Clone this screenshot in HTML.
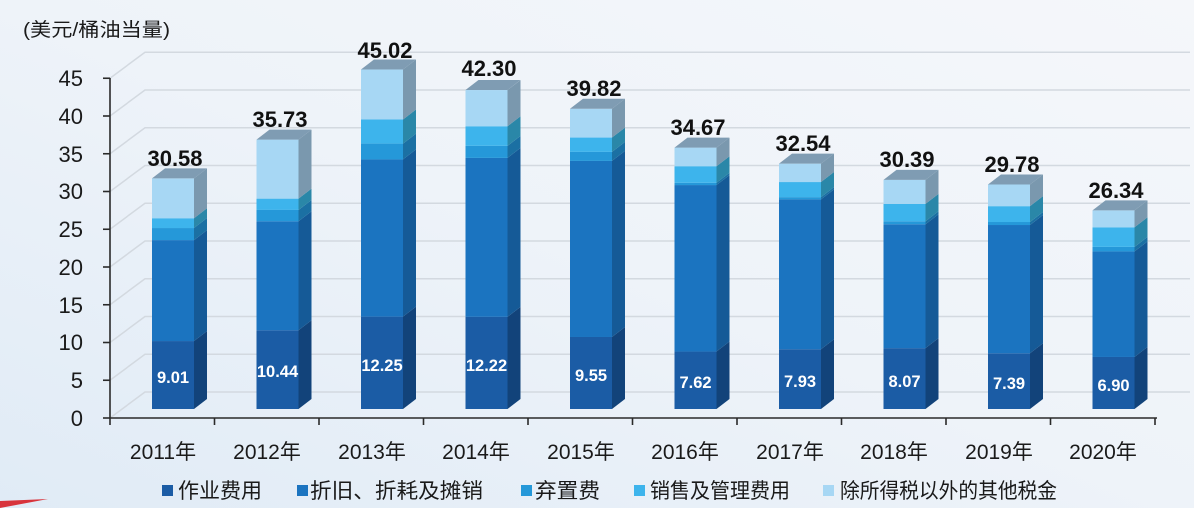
<!DOCTYPE html>
<html><head><meta charset="utf-8"><style>
html,body{margin:0;padding:0;width:1194px;height:508px;overflow:hidden;}
svg{display:block;}
text{font-family:"Liberation Sans","Noto Sans CJK SC",sans-serif;}
</style></head><body>
<svg width="1194" height="508" viewBox="0 0 1194 508" xmlns="http://www.w3.org/2000/svg">
<defs>
<linearGradient id="bg" x1="0" y1="1" x2="1" y2="0">
<stop offset="0" stop-color="#e0ebf6"/>
<stop offset="0.5" stop-color="#eef3f9"/>
<stop offset="1" stop-color="#f5f7fa"/>
</linearGradient>
</defs>
<rect width="1194" height="508" fill="url(#bg)"/>
<polygon points="0,501 48,499 0,508" fill="#d8343c"/>

<!-- title -->
<text x="23" y="36" font-size="19" fill="#1a1a1a" textLength="147" lengthAdjust="spacingAndGlyphs">(美元/桶油当量)</text>

<!-- gridlines -->
<g stroke="#d3d9e0" stroke-width="1.5" fill="none">
<polyline points="110,418 145,392 1190,392"/>
<polyline points="110,380.25 145,354.25 1190,354.25"/>
<polyline points="110,342.5 145,316.5 1190,316.5"/>
<polyline points="110,304.75 145,278.75 1190,278.75"/>
<polyline points="110,267 145,241 1190,241"/>
<polyline points="110,229.25 145,203.25 1190,203.25"/>
<polyline points="110,191.5 145,165.5 1190,165.5"/>
<polyline points="110,153.75 145,127.75 1190,127.75"/>
<polyline points="110,116 145,90 1190,90"/>
<polyline points="110,78.25 145,52.25 1190,52.25"/>
</g>

<!-- axes -->
<g stroke="#2a2a2a" stroke-width="1.6">
<line x1="110" y1="78" x2="110" y2="425"/>
<line x1="110" y1="418" x2="1157" y2="418"/>
<line x1="103" y1="418" x2="110" y2="418"/>
<line x1="103" y1="380.25" x2="110" y2="380.25"/>
<line x1="103" y1="342.5" x2="110" y2="342.5"/>
<line x1="103" y1="304.75" x2="110" y2="304.75"/>
<line x1="103" y1="267" x2="110" y2="267"/>
<line x1="103" y1="229.25" x2="110" y2="229.25"/>
<line x1="103" y1="191.5" x2="110" y2="191.5"/>
<line x1="103" y1="153.75" x2="110" y2="153.75"/>
<line x1="103" y1="116" x2="110" y2="116"/>
<line x1="103" y1="78.25" x2="110" y2="78.25"/>
<line x1="214.5" y1="418" x2="214.5" y2="425"/>
<line x1="319" y1="418" x2="319" y2="425"/>
<line x1="423.5" y1="418" x2="423.5" y2="425"/>
<line x1="528" y1="418" x2="528" y2="425"/>
<line x1="632.5" y1="418" x2="632.5" y2="425"/>
<line x1="737" y1="418" x2="737" y2="425"/>
<line x1="841.5" y1="418" x2="841.5" y2="425"/>
<line x1="946" y1="418" x2="946" y2="425"/>
<line x1="1050.5" y1="418" x2="1050.5" y2="425"/>
<line x1="1155" y1="418" x2="1155" y2="425"/>
</g>

<!-- y labels -->
<g font-size="22" fill="#1a1a1a" text-anchor="end">
<text x="83" y="426">0</text>
<text x="83" y="388">5</text>
<text x="83" y="350">10</text>
<text x="83" y="313">15</text>
<text x="83" y="275">20</text>
<text x="83" y="237">25</text>
<text x="83" y="199">30</text>
<text x="83" y="162">35</text>
<text x="83" y="124">40</text>
<text x="83" y="86">45</text>
</g>

<!-- x labels -->
<g font-size="21" fill="#1a1a1a" text-anchor="middle">
<text x="163" y="459">2011年</text>
<text x="267" y="459">2012年</text>
<text x="372" y="459">2013年</text>
<text x="476" y="459">2014年</text>
<text x="581" y="459">2015年</text>
<text x="685" y="459">2016年</text>
<text x="790" y="459">2017年</text>
<text x="894" y="459">2018年</text>
<text x="999" y="459">2019年</text>
<text x="1103" y="459">2020年</text>
</g>

<!-- bars -->
<!-- macro: front rects, side skewed rects, top polygon -->
<g id="b0" transform="translate(152,0)">
<rect x="0" y="341.06" width="42" height="67.94" fill="#1b5ca5"/>
<rect x="0" y="240.1" width="42" height="100.96" fill="#1b74c0"/>
<rect x="0" y="228.04" width="42" height="12.06" fill="#2598d9"/>
<rect x="0" y="218.24" width="42" height="9.8" fill="#3db4ec"/>
<rect x="0" y="178.43" width="42" height="39.81" fill="#a7d7f4"/>
<g transform="translate(42,0) matrix(1,-0.769,0,1,0,0)">
<rect x="0" y="341.06" width="13" height="67.94" fill="#12437a"/>
<rect x="0" y="240.1" width="13" height="100.96" fill="#155a97"/>
<rect x="0" y="228.04" width="13" height="12.06" fill="#1b70a3"/>
<rect x="0" y="218.24" width="13" height="9.8" fill="#2a87a8"/>
<rect x="0" y="178.43" width="13" height="39.81" fill="#7a98ae"/>
</g>
<polygon points="0,178.43 42,178.43 55,168.43 13,168.43" fill="#7f9cb3"/>
</g>

<g transform="translate(256.5,0)">
<rect x="0" y="330.28" width="42" height="78.72" fill="#1b5ca5"/>
<rect x="0" y="221.25" width="42" height="109.03" fill="#1b74c0"/>
<rect x="0" y="209.94" width="42" height="11.31" fill="#2598d9"/>
<rect x="0" y="198.63" width="42" height="11.31" fill="#3db4ec"/>
<rect x="0" y="139.6" width="42" height="59.03" fill="#a7d7f4"/>
<g transform="translate(42,0) matrix(1,-0.769,0,1,0,0)">
<rect x="0" y="330.28" width="13" height="78.72" fill="#12437a"/>
<rect x="0" y="221.25" width="13" height="109.03" fill="#155a97"/>
<rect x="0" y="209.94" width="13" height="11.31" fill="#1b70a3"/>
<rect x="0" y="198.63" width="13" height="11.31" fill="#2a87a8"/>
<rect x="0" y="139.6" width="13" height="59.03" fill="#7a98ae"/>
</g>
<polygon points="0,139.6 42,139.6 55,129.6 13,129.6" fill="#7f9cb3"/>
</g>

<g transform="translate(361,0)">
<rect x="0" y="316.63" width="42" height="92.37" fill="#1b5ca5"/>
<rect x="0" y="159.43" width="42" height="157.2" fill="#1b74c0"/>
<rect x="0" y="143.59" width="42" height="15.84" fill="#2598d9"/>
<rect x="0" y="119.46" width="42" height="24.13" fill="#3db4ec"/>
<rect x="0" y="69.55" width="42" height="49.91" fill="#a7d7f4"/>
<g transform="translate(42,0) matrix(1,-0.769,0,1,0,0)">
<rect x="0" y="316.63" width="13" height="92.37" fill="#12437a"/>
<rect x="0" y="159.43" width="13" height="157.2" fill="#155a97"/>
<rect x="0" y="143.59" width="13" height="15.84" fill="#1b70a3"/>
<rect x="0" y="119.46" width="13" height="24.13" fill="#2a87a8"/>
<rect x="0" y="69.55" width="13" height="49.91" fill="#7a98ae"/>
</g>
<polygon points="0,69.55 42,69.55 55,59.55 13,59.55" fill="#7f9cb3"/>
</g>

<g transform="translate(465.5,0)">
<rect x="0" y="316.86" width="42" height="92.14" fill="#1b5ca5"/>
<rect x="0" y="157.92" width="42" height="158.94" fill="#1b74c0"/>
<rect x="0" y="145.85" width="42" height="12.07" fill="#2598d9"/>
<rect x="0" y="126.25" width="42" height="19.6" fill="#3db4ec"/>
<rect x="0" y="90.06" width="42" height="36.19" fill="#a7d7f4"/>
<g transform="translate(42,0) matrix(1,-0.769,0,1,0,0)">
<rect x="0" y="316.86" width="13" height="92.14" fill="#12437a"/>
<rect x="0" y="157.92" width="13" height="158.94" fill="#155a97"/>
<rect x="0" y="145.85" width="13" height="12.07" fill="#1b70a3"/>
<rect x="0" y="126.25" width="13" height="19.6" fill="#2a87a8"/>
<rect x="0" y="90.06" width="13" height="36.19" fill="#7a98ae"/>
</g>
<polygon points="0,90.06 42,90.06 55,80.06 13,80.06" fill="#7f9cb3"/>
</g>

<g transform="translate(570,0)">
<rect x="0" y="336.99" width="42" height="72.01" fill="#1b5ca5"/>
<rect x="0" y="160.93" width="42" height="176.06" fill="#1b74c0"/>
<rect x="0" y="151.89" width="42" height="9.04" fill="#2598d9"/>
<rect x="0" y="137.56" width="42" height="14.33" fill="#3db4ec"/>
<rect x="0" y="108.76" width="42" height="28.8" fill="#a7d7f4"/>
<g transform="translate(42,0) matrix(1,-0.769,0,1,0,0)">
<rect x="0" y="336.99" width="13" height="72.01" fill="#12437a"/>
<rect x="0" y="160.93" width="13" height="176.06" fill="#155a97"/>
<rect x="0" y="151.89" width="13" height="9.04" fill="#1b70a3"/>
<rect x="0" y="137.56" width="13" height="14.33" fill="#2a87a8"/>
<rect x="0" y="108.76" width="13" height="28.8" fill="#7a98ae"/>
</g>
<polygon points="0,108.76 42,108.76 55,98.76 13,98.76" fill="#7f9cb3"/>
</g>

<g transform="translate(674.5,0)">
<rect x="0" y="351.55" width="42" height="57.45" fill="#1b5ca5"/>
<rect x="0" y="185.06" width="42" height="166.49" fill="#1b74c0"/>
<rect x="0" y="182.8" width="42" height="2.26" fill="#2598d9"/>
<rect x="0" y="166.21" width="42" height="16.59" fill="#3db4ec"/>
<rect x="0" y="147.59" width="42" height="18.62" fill="#a7d7f4"/>
<g transform="translate(42,0) matrix(1,-0.769,0,1,0,0)">
<rect x="0" y="351.55" width="13" height="57.45" fill="#12437a"/>
<rect x="0" y="185.06" width="13" height="166.49" fill="#155a97"/>
<rect x="0" y="182.8" width="13" height="2.26" fill="#1b70a3"/>
<rect x="0" y="166.21" width="13" height="16.59" fill="#2a87a8"/>
<rect x="0" y="147.59" width="13" height="18.62" fill="#7a98ae"/>
</g>
<polygon points="0,147.59 42,147.59 55,137.59 13,137.59" fill="#7f9cb3"/>
</g>

<g transform="translate(779,0)">
<rect x="0" y="349.21" width="42" height="59.79" fill="#1b5ca5"/>
<rect x="0" y="199.39" width="42" height="149.82" fill="#1b74c0"/>
<rect x="0" y="197.13" width="42" height="2.26" fill="#2598d9"/>
<rect x="0" y="182.05" width="42" height="15.08" fill="#3db4ec"/>
<rect x="0" y="163.65" width="42" height="18.4" fill="#a7d7f4"/>
<g transform="translate(42,0) matrix(1,-0.769,0,1,0,0)">
<rect x="0" y="349.21" width="13" height="59.79" fill="#12437a"/>
<rect x="0" y="199.39" width="13" height="149.82" fill="#155a97"/>
<rect x="0" y="197.13" width="13" height="2.26" fill="#1b70a3"/>
<rect x="0" y="182.05" width="13" height="15.08" fill="#2a87a8"/>
<rect x="0" y="163.65" width="13" height="18.4" fill="#7a98ae"/>
</g>
<polygon points="0,163.65 42,163.65 55,153.65 13,153.65" fill="#7f9cb3"/>
</g>

<g transform="translate(883.5,0)">
<rect x="0" y="348.15" width="42" height="60.85" fill="#1b5ca5"/>
<rect x="0" y="224.27" width="42" height="123.88" fill="#1b74c0"/>
<rect x="0" y="221.25" width="42" height="3.02" fill="#2598d9"/>
<rect x="0" y="203.91" width="42" height="17.34" fill="#3db4ec"/>
<rect x="0" y="179.86" width="42" height="24.05" fill="#a7d7f4"/>
<g transform="translate(42,0) matrix(1,-0.769,0,1,0,0)">
<rect x="0" y="348.15" width="13" height="60.85" fill="#12437a"/>
<rect x="0" y="224.27" width="13" height="123.88" fill="#155a97"/>
<rect x="0" y="221.25" width="13" height="3.02" fill="#1b70a3"/>
<rect x="0" y="203.91" width="13" height="17.34" fill="#2a87a8"/>
<rect x="0" y="179.86" width="13" height="24.05" fill="#7a98ae"/>
</g>
<polygon points="0,179.86 42,179.86 55,169.86 13,169.86" fill="#7f9cb3"/>
</g>

<g transform="translate(988,0)">
<rect x="0" y="353.28" width="42" height="55.72" fill="#1b5ca5"/>
<rect x="0" y="225.02" width="42" height="128.26" fill="#1b74c0"/>
<rect x="0" y="222.01" width="42" height="3.01" fill="#2598d9"/>
<rect x="0" y="206.17" width="42" height="15.84" fill="#3db4ec"/>
<rect x="0" y="184.46" width="42" height="21.71" fill="#a7d7f4"/>
<g transform="translate(42,0) matrix(1,-0.769,0,1,0,0)">
<rect x="0" y="353.28" width="13" height="55.72" fill="#12437a"/>
<rect x="0" y="225.02" width="13" height="128.26" fill="#155a97"/>
<rect x="0" y="222.01" width="13" height="3.01" fill="#1b70a3"/>
<rect x="0" y="206.17" width="13" height="15.84" fill="#2a87a8"/>
<rect x="0" y="184.46" width="13" height="21.71" fill="#7a98ae"/>
</g>
<polygon points="0,184.46 42,184.46 55,174.46 13,174.46" fill="#7f9cb3"/>
</g>

<g transform="translate(1092.5,0)">
<rect x="0" y="356.97" width="42" height="52.03" fill="#1b5ca5"/>
<rect x="0" y="251.41" width="42" height="105.56" fill="#1b74c0"/>
<rect x="0" y="246.89" width="42" height="4.52" fill="#2598d9"/>
<rect x="0" y="227.29" width="42" height="19.6" fill="#3db4ec"/>
<rect x="0" y="210.4" width="42" height="16.89" fill="#a7d7f4"/>
<g transform="translate(42,0) matrix(1,-0.769,0,1,0,0)">
<rect x="0" y="356.97" width="13" height="52.03" fill="#12437a"/>
<rect x="0" y="251.41" width="13" height="105.56" fill="#155a97"/>
<rect x="0" y="246.89" width="13" height="4.52" fill="#1b70a3"/>
<rect x="0" y="227.29" width="13" height="19.6" fill="#2a87a8"/>
<rect x="0" y="210.4" width="13" height="16.89" fill="#7a98ae"/>
</g>
<polygon points="0,210.4 42,210.4 55,200.4 13,200.4" fill="#7f9cb3"/>
</g>

<!-- total labels -->
<g font-size="22" font-weight="bold" fill="#111" text-anchor="middle">
<text x="175" y="166">30.58</text>
<text x="280" y="127">35.73</text>
<text x="385" y="58">45.02</text>
<text x="489" y="76">42.30</text>
<text x="594" y="96">39.82</text>
<text x="698" y="135">34.67</text>
<text x="803" y="151">32.54</text>
<text x="907" y="167">30.39</text>
<text x="1012" y="172">29.78</text>
<text x="1116" y="198">26.34</text>
</g>

<!-- inner labels -->
<g font-size="16.5" font-weight="bold" fill="#ffffff" text-anchor="middle">
<text x="173" y="383">9.01</text>
<text x="277.5" y="377">10.44</text>
<text x="382" y="371">12.25</text>
<text x="486.5" y="371">12.22</text>
<text x="591" y="381">9.55</text>
<text x="695.5" y="388">7.62</text>
<text x="800" y="387">7.93</text>
<text x="904.5" y="387">8.07</text>
<text x="1009" y="389">7.39</text>
<text x="1113.5" y="391">6.90</text>
</g>

<!-- legend -->
<rect x="162" y="485" width="11" height="11" fill="#1b5ca5"/>
<rect x="297" y="485" width="11" height="11" fill="#1b74c0"/>
<rect x="521" y="485" width="11" height="11" fill="#2598d9"/>
<rect x="634" y="485" width="11" height="11" fill="#3db4ec"/>
<rect x="823" y="485" width="11" height="11" fill="#a7d7f4"/>
<g font-size="21" fill="#1a1a1a">
<text x="178" y="498" textLength="84" lengthAdjust="spacingAndGlyphs">作业费用</text>
<text x="310" y="498" textLength="173" lengthAdjust="spacingAndGlyphs">折旧、折耗及摊销</text>
<text x="535" y="498" textLength="65" lengthAdjust="spacingAndGlyphs">弃置费</text>
<text x="650" y="498" textLength="140" lengthAdjust="spacingAndGlyphs">销售及管理费用</text>
<text x="840" y="498" textLength="217" lengthAdjust="spacingAndGlyphs">除所得税以外的其他税金</text>
</g>
</svg>
</body></html>
